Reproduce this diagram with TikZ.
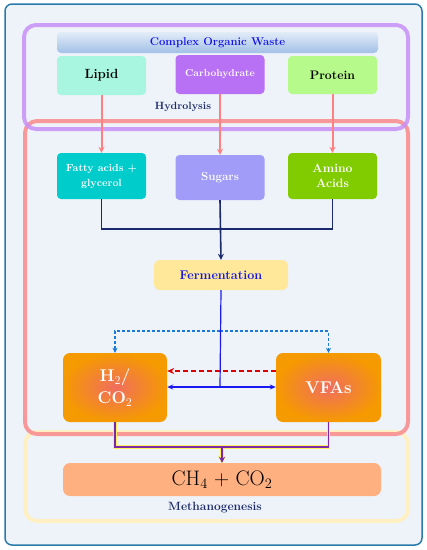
\documentclass[tikz,border=0pt]{standalone}
\usetikzlibrary{arrows.meta}
\definecolor{framec}{HTML}{2A7AAA}
\definecolor{bgc}{HTML}{EEF3FA}
\definecolor{purpr}{HTML}{C890F8}
\definecolor{redr}{HTML}{F89090}
\definecolor{yelr}{HTML}{FFF0C4}
\definecolor{cowtop}{HTML}{E2ECF8}
\definecolor{cowbot}{HTML}{A2C0E6}
\definecolor{cowtxt}{HTML}{1414E6}
\definecolor{lipidc}{HTML}{A8F5E0}
\definecolor{carbc}{HTML}{B870F5}
\definecolor{protc}{HTML}{B5FA8A}
\definecolor{fattyc}{HTML}{00CCCC}
\definecolor{sugarc}{HTML}{A09CF8}
\definecolor{aminoc}{HTML}{80CC00}
\definecolor{fermc}{HTML}{FFE89A}
\definecolor{navyc}{HTML}{1A2A6C}
\definecolor{bluec}{HTML}{1A1AF0}
\definecolor{dashbc}{HTML}{1A7AD9}
\definecolor{redc}{HTML}{E00000}
\definecolor{pinkc}{HTML}{FF8080}
\definecolor{orin}{HTML}{F06E5E}
\definecolor{orout}{HTML}{F59A00}
\definecolor{ch4c}{HTML}{FFB080}
\definecolor{purpc}{HTML}{7A2AA8}
\definecolor{halo}{HTML}{FFF060}
\definecolor{labc}{HTML}{1A2A6A}
\tikzset{
  stagebox/.style={rounded corners=4pt, inner sep=0pt, align=center, font=\bfseries},
  orbox/.style={stagebox, inner color=orin, outer color=orout, text=white, minimum width=104pt, minimum height=69pt, rounded corners=7pt},
  ring/.style={line width=4pt, rounded corners=12pt},
  pinkarrow/.style={draw=pinkc, line width=2pt, -{Stealth[length=6pt,width=6pt]}},
  navyline/.style={draw=navyc, line width=1.6pt},
  blueline/.style={draw=bluec, line width=1.2pt},
  dashblue/.style={draw=dashbc, line width=1.1pt, dash pattern=on 3pt off 2pt},
  reddash/.style={draw=redc, line width=1.6pt, dash pattern=on 5pt off 3pt},
  purpline/.style={draw=purpc, line width=1.6pt},
  haloline/.style={draw=halo, line width=3.4pt},
  lab/.style={text=labc}
}
\begin{document}
\begin{tikzpicture}[x=1pt,y=-1pt]
\useasboundingbox (0,0) rectangle (427,550);
\draw[draw=framec, fill=bgc, line width=1.5pt, rounded corners=7pt] (5,4) rectangle (422,545);
% stage rings
\draw[ring, draw=yelr] (25,432) rectangle (408,521);
\draw[ring, draw=redr, opacity=0.9] (25,121) rectangle (408,434);
\draw[ring, draw=purpr, opacity=0.85] (24,25) rectangle (408,129);
% nodes
\node[stagebox, top color=cowtop, bottom color=cowbot, text=cowtxt, minimum width=321pt, minimum height=21pt, font=\bfseries\fontsize{11.3}{13}\selectfont] (cow) at (217.5,42.5) {Complex Organic Waste};
\node[stagebox, fill=lipidc, minimum width=89pt, minimum height=39pt, font=\bfseries\fontsize{13.3}{15}\selectfont] (lipid) at (101.5,75.5) {Lipid};
\node[stagebox, fill=carbc, text=white, minimum width=89pt, minimum height=39pt, font=\bfseries\fontsize{10}{12}\selectfont] (carb) at (220,74.5) {Carbohydrate};
\node[stagebox, fill=protc, minimum width=89pt, minimum height=38pt, font=\bfseries\fontsize{12.3}{14}\selectfont] (prot) at (332.5,75) {Protein};
\node[lab, font=\bfseries\fontsize{10.5}{12}\selectfont] (hyd) at (183,107) {Hydrolysis};
\node[stagebox, fill=fattyc, text=white, minimum width=89pt, minimum height=46pt, font=\bfseries\fontsize{10.4}{15}\selectfont] (fatty) at (101.5,176) {Fatty acids +\\glycerol};
\node[stagebox, fill=sugarc, text=white, minimum width=89pt, minimum height=45pt, font=\bfseries\fontsize{11.6}{14}\selectfont] (sugar) at (220,177.5) {Sugars};
\node[stagebox, fill=aminoc, text=white, minimum width=89pt, minimum height=46pt, font=\bfseries\fontsize{12.2}{15}\selectfont] (amino) at (332.5,176) {Amino\\Acids};
\node[stagebox, fill=fermc, text=cowtxt, minimum width=134pt, minimum height=30pt, rounded corners=6pt, font=\bfseries\fontsize{12.6}{15}\selectfont] (ferm) at (221,275) {Fermentation};
\node[orbox, font=\bfseries\fontsize{17}{22}\selectfont] (h2) at (115,387.5) {H$_2$/\\CO$_2$};
\node[orbox, minimum width=105pt, font=\bfseries\fontsize{17}{20}\selectfont] (vfa) at (328.5,387.5) {VFAs};
\node[stagebox, fill=ch4c, minimum width=318pt, minimum height=33pt, rounded corners=7pt, font=\fontsize{21}{24}\selectfont] (ch4) at (222,479.5) {CH$_4$ + CO$_2$};
\node[lab, font=\bfseries\fontsize{12}{14}\selectfont] (meth) at (215,508) {Methanogenesis};
% coordinates
\coordinate (jn) at (220,229);
\coordinate (bj) at (220,387);
\coordinate (dj) at (220,331);
\coordinate (pj) at (222,447);
% hydrolysis arrows
\draw[pinkarrow] (lipid.south) -- (fatty.north);
\draw[pinkarrow] (carb.south) -- (sugar.north);
\draw[pinkarrow] (prot.south) -- (amino.north);
% to fermentation
\draw[navyline] (fatty.south) |- (jn) -| (amino.south);
\draw[navyline, -{Stealth[length=6pt,width=6pt]}] (sugar.south) -- (ferm.north);
% dashed
\draw[dashblue, -{Stealth[length=5pt,width=5pt]}] (dj) -| (h2.north);
\draw[dashblue, -{Stealth[length=5pt,width=5pt]}] (dj) -| (vfa.north);
% fermentation products
\draw[blueline] (ferm.south) -- (bj);
\draw[blueline, {Stealth[length=6pt,width=5pt]}-{Stealth[length=6pt,width=5pt]}] (h2.east |- bj) -- (vfa.west |- bj);
\draw[reddash, -{Stealth[length=7pt,width=6pt]}] ([yshift=16.5pt]vfa.west) -- ([yshift=16.5pt]h2.east);
% methanogenesis
\draw[haloline] (h2.south) |- (pj) -| (vfa.south);
\draw[haloline, -{Stealth[length=8pt,width=8pt]}] (pj) -- ([yshift=-1pt]ch4.north);
\draw[purpline] (h2.south) |- (pj) -| (vfa.south);
\draw[purpline, -{Stealth[length=6pt,width=6pt]}] (pj) -- (ch4.north);
\end{tikzpicture}
\end{document}
